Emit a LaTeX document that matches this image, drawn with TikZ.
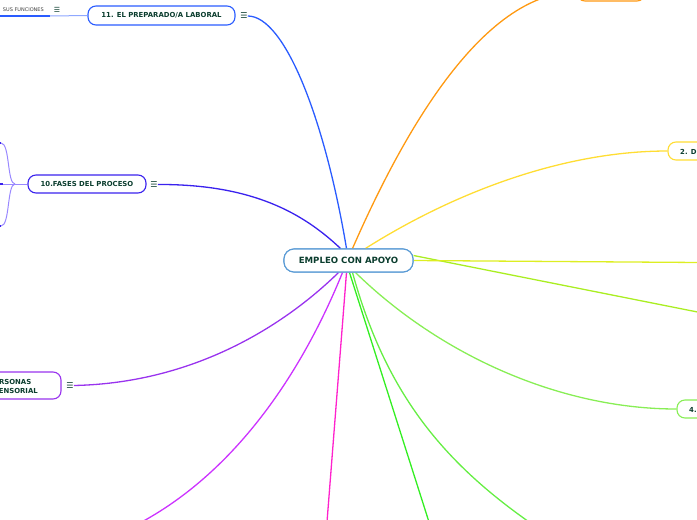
\documentclass[tikz,border=0pt]{standalone}
\usepackage{fontspec}
\setmainfont{DejaVu Sans}
\definecolor{txt}{HTML}{0B3D2E}
\definecolor{cblue}{HTML}{5A9BD5}
\definecolor{bA}{HTML}{2A5CFF}
\definecolor{bAlight}{HTML}{8FA8FF}
\definecolor{bB}{HTML}{3A22EE}
\definecolor{bBlight}{HTML}{9988FF}
\definecolor{bC}{HTML}{9933EE}
\definecolor{bD}{HTML}{CC33FF}
\definecolor{bE}{HTML}{FF22CC}
\definecolor{bF}{HTML}{33EE22}
\definecolor{bG}{HTML}{66EE44}
\definecolor{bH}{HTML}{88EE55}
\definecolor{bI}{HTML}{AAEE22}
\definecolor{bJ}{HTML}{DDEE22}
\definecolor{bK}{HTML}{FFDD33}
\definecolor{bL}{HTML}{FF9911}
\begin{document}
\begin{tikzpicture}[x=1pt,y=-1pt,
  every node/.style={text=txt},
  box/.style={draw, rounded corners=8pt, line width=1.1pt, fill=white, inner sep=0pt, minimum height=18pt, align=center, font=\fontsize{6.9}{8}\selectfont\bfseries},
  conn/.style={line width=1.3pt},
  menu/.style={font=\fontsize{8}{8}\selectfont, text=txt, inner sep=0pt},
  lab/.style={font=\fontsize{6.9}{8}\selectfont\bfseries, inner sep=0pt}]
\useasboundingbox (0,0) rectangle (697,520);
% central
\node[box, draw=cblue, minimum width=129pt, minimum height=23pt, rounded corners=10pt, font=\fontsize{8.6}{9}\selectfont\bfseries] (c) at (348.5,260.5) {EMPLEO CON APOYO};

% branch 11
\node[box, draw=bA, minimum width=147pt, minimum height=19pt] (n11) at (161.5,15.5) {11. EL PREPARADO/A LABORAL};
\node[menu] (m11) at (244,16) {☰};
\draw[conn, bA] (m11.east) .. controls (285,16) and (325,120) .. ([xshift=-2pt]c.north);
% sub node of 11
\node[font=\fontsize{5}{6}\selectfont, text=black!75, inner sep=0pt, anchor=east] (s11) at (44,10) {SUS FUNCIONES};
\node[menu, font=\fontsize{7}{7}\selectfont] (ms11) at (57,10) {☰};
\coordinate (u11a) at (0,16);
\coordinate (u11b) at (50,16);
\draw[line width=2pt, bA] (u11a) -- (u11b);
\draw[line width=1pt, bAlight] (u11b) -- (n11.west);

% branch 10
\node[box, draw=bB, minimum width=118pt, minimum height=18pt] (n10) at (87,184) {10.FASES DEL PROCESO};
\node[menu] (m10) at (154,184.5) {☰};
\draw[conn, bB] (m10.east) .. controls (255,184) and (305,215) .. ([xshift=-8pt]c.north);
\coordinate (j10) at (15,184);
\coordinate (t10) at (1,143);
\coordinate (mi10) at (0,184);
\coordinate (b10) at (1,226);
\draw[line width=1pt, bBlight] (n10.west) -- (mi10);
\draw[line width=1pt, bBlight] (j10) .. controls (7,184) and (10,143) .. (t10);
\draw[line width=1pt, bBlight] (j10) .. controls (7,184) and (10,226) .. (b10);
\draw[line width=1.5pt, bB] (0,143) -- (t10) (0,226) -- (b10) (0,184) -- (3,184);

% branch 9
\node[box, draw=bC, minimum width=120pt, minimum height=27pt] (n9) at (1,385.5) {};
\node[lab, anchor=east] (t9a) at (31.5,381.5) {RSONAS};
\node[lab, anchor=east] (t9b) at (38,390.5) {ENSORIAL};
\node[menu] (m9) at (70,385.5) {☰};
\draw[conn, bC] (m9.east) .. controls (200,383) and (290,320) .. ([xshift=-10pt]c.south);

% bottom branches
\coordinate (eD) at (138,524);
\coordinate (eE) at (327,522);
\coordinate (eF) at (429,522);
\coordinate (eG) at (532,524);
\draw[conn, bD] ([xshift=-6pt]c.south) .. controls (305,365) and (240,470) .. (eD);
\draw[conn, bE] ([xshift=-2pt]c.south) -- (eE);
\draw[conn, bF] ([xshift=1pt]c.south) -- (eF);
\draw[conn, bG] ([xshift=4pt]c.south) .. controls (385,390) and (440,460) .. (eG);

% right branches
\node[box, draw=bH, minimum width=60pt] (n4) at (707,409) {};
\node[lab, anchor=west] (t4) at (689,409.5) {4.};
\draw[conn, bH] ([xshift=7pt]c.south) .. controls (440,355) and (560,409) .. (n4.west);
\coordinate (eI) at (700,312.5);
\draw[conn, bI] ([yshift=5pt]c.east) -- (eI);
\coordinate (eJ) at (700,262.5);
\draw[conn, bJ] (c.east) -- (eJ);

\node[box, draw=bK, minimum width=120pt] (n2) at (728,151) {};
\node[lab, anchor=west] (t2) at (680,151.5) {2. DI};
\draw[conn, bK] ([xshift=17pt]c.north) .. controls (450,195) and (560,151) .. (n2.west);

\node[box, draw=bL, minimum width=68pt] (n1) at (611,-8) {};
\draw[conn, bL] ([xshift=4pt]c.north) .. controls (400,140) and (480,-8) .. (n1.west);

% redraw central on top
\node[box, draw=cblue, minimum width=129pt, minimum height=23pt, rounded corners=10pt, font=\fontsize{8.6}{9}\selectfont\bfseries] at (c) {EMPLEO CON APOYO};
\end{tikzpicture}
\end{document}
